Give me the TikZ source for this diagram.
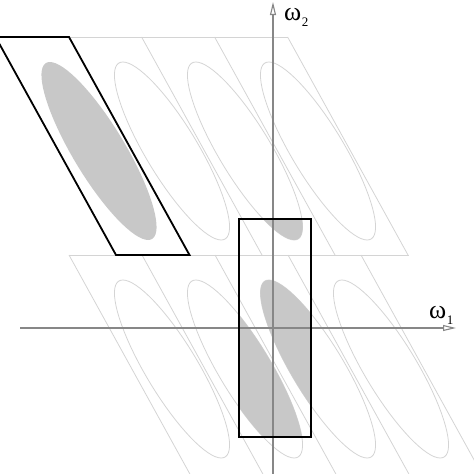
\documentclass[tikz,border=0pt]{standalone}
\usepackage{fontspec}
\setmainfont{Liberation Serif}
\usetikzlibrary{arrows.meta}
\definecolor{latt}{RGB}{212,212,212}
\definecolor{axisc}{RGB}{135,135,135}
\definecolor{fillc}{RGB}{200,200,200}
\newcommand\myS{0.552}
\newcommand\myA{30}
\newcommand\myB{89}
\newcommand\ellpath[2]{plot[domain=0:360,samples=73] ({#1+\myA*cos(\x)+\myS*\myB*sin(\x)},{#2+\myB*sin(\x)}) -- cycle}
\newcommand\omsub[1]{ω\kern0.5pt\raisebox{-6pt}{\fontsize{13}{13}\selectfont #1}}
\begin{document}
\begin{tikzpicture}[x=1pt,y=-1pt,
  lattline/.style={draw=latt, line width=0.8pt},
  ellline/.style={draw=latt, line width=0.8pt},
  spec/.style={fill=fillc, draw=none},
  blackbox/.style={draw=black, line width=1.8pt, line join=miter},
  axisline/.style={draw=axisc, line width=1.1pt, -{Triangle[open, length=13pt, width=6pt, fill=white]}},
  lab/.style={font=\fontsize{26}{26}\selectfont, inner sep=0pt}]
\useasboundingbox (0,0) rectangle (474,474);
\clip (0,0) rectangle (474,474);
% lattice of supports (top row)
\draw[lattline] (-4.4,37) -- (288,37);
\draw[lattline] (116,255) -- (408.5,255);
\foreach \k in {0,...,4}{
  \draw[lattline] ({-4.4+73*\k},37) -- ({116+73*\k},255);
}
% lattice (bottom row)
\draw[lattline] (69,255) -- (361,255);
\foreach \k in {0,...,4}{
  \draw[lattline] ({69+73*\k},255) -- ({69+73*\k+\myS*225},480);
}
% ellipse outlines
\foreach \k in {1,2,3}{
  \draw[ellline] \ellpath{99+73*\k}{151};
}
\foreach \k in {0,1,2,3}{
  \draw[ellline] \ellpath{172+73*\k}{369};
}
% filled spectrum in the sheared cell
\fill[spec] \ellpath{99}{151};
% filled pieces inside the rectangle
\begin{scope}
  \clip (239,219) rectangle (311,437);
  \fill[spec] \ellpath{245}{151};
  \fill[spec] \ellpath{245}{369};
  \fill[spec] \ellpath{318}{369};
\end{scope}
% axes
\draw[axisline] (20,328) -- (456,328);
\draw[axisline] (273,480) -- (273,2);
\node[lab, anchor=base west] (w1) at (429,318) {\omsub{1}};
\node[lab, anchor=base west] (w2) at (284,20) {\omsub{2}};
% black outlines
\draw[blackbox] (-4.4,37) -- (69,37) -- (189.5,255) -- (116,255) -- cycle;
\draw[blackbox] (239,219) rectangle (311,437);
\end{tikzpicture}
\end{document}
